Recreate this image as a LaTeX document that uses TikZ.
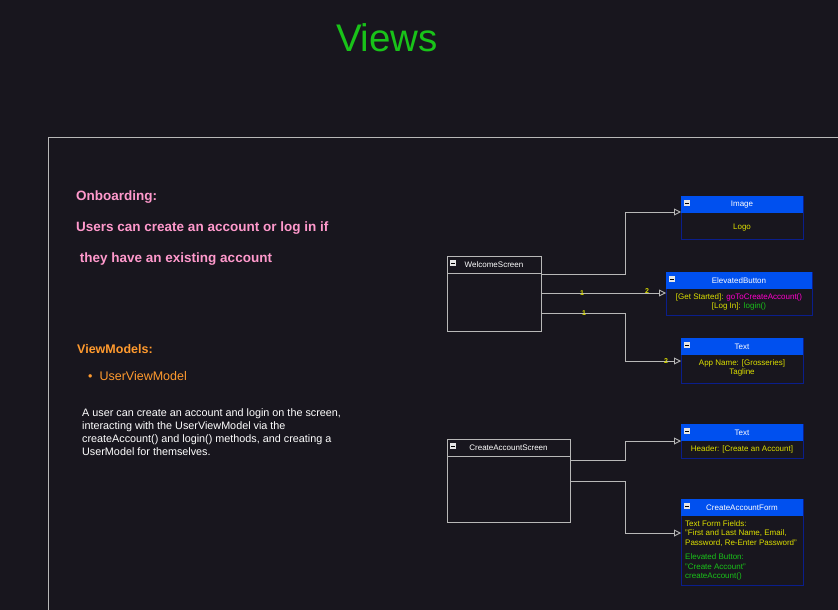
\documentclass[tikz,border=0pt]{standalone}
\usepackage{fontspec}
\setmainfont{Liberation Sans}
\usetikzlibrary{arrows.meta}
\definecolor{bg}{HTML}{18161E}
\definecolor{hdr}{HTML}{0050EF}
\definecolor{bdr}{HTML}{0A1E8C}
\definecolor{ylw}{HTML}{DDE000}
\definecolor{pnk}{HTML}{FF99CC}
\definecolor{org}{HTML}{FF9A2E}
\definecolor{grn}{HTML}{19C319}
\definecolor{mag}{HTML}{FF00CC}
\definecolor{gry}{HTML}{B8B8B8}
\tikzset{
 conn/.style={draw=gry,line width=0.9pt,-{Triangle[open,length=7pt,width=7pt]}},
 lab/.style={text=ylw,font=\fontsize{7}{8}\selectfont\bfseries,inner sep=1pt},
 ttl/.style={font=\fontsize{8}{9}\selectfont,text=white,inner sep=0pt},
 body/.style={font=\fontsize{8}{9.5}\selectfont,text=ylw,inner sep=0pt,align=center},
 big/.style={anchor=west,font=\fontsize{13.5}{16}\selectfont\bfseries,inner sep=0},
}
\newcommand{\minus}[2]{\fill[white!80!gray] (#1+3,-#2-4) rectangle (#1+9,-#2-10); \fill[black] (#1+4,-#2-6.5) rectangle (#1+8,-#2-7.5);}
\newcommand{\scr}[6]{% name x1 y1 x2 y2 hy
 \draw[gry,line width=0.9pt] (#2,-#3) rectangle (#4,-#5);
 \draw[gry,line width=0.9pt] (#2,-#6) -- (#4,-#6);
 \coordinate (#1) at (#2,-#3);
 \minus{#2}{#3}}
\newcommand{\comp}[5]{% x1 y1 x2 y2 hy
 \fill[bg] (#1,-#2) rectangle (#3,-#4);
 \draw[bdr,line width=0.9pt] (#1,-#2) rectangle (#3,-#4);
 \fill[hdr] (#1,-#2) rectangle (#3,-#5);
 \minus{#1}{#2}}
\begin{document}
\begin{tikzpicture}[x=1pt,y=1pt]
\fill[bg] (0,0) rectangle (838,-610);
\useasboundingbox (0,0) rectangle (838,-610);
\draw[gry,line width=0.7pt] (838,-137) -- (48,-137) -- (48,-610);
\node[text=grn,font=\fontsize{38.5}{42}\selectfont] (title) at (387,-38) {Views};
% left text
\node[big,text=pnk] (t1) at (76,-197) {Onboarding:};
\node[big,text=pnk] (t2) at (76,-228) {Users can create an account or log in if};
\node[big,text=pnk] (t3) at (76,-259) {\ they have an existing account};
\node[big,text=org,font=\fontsize{12.5}{15}\selectfont\bfseries] (t4) at (77,-349) {ViewModels:};
\node[anchor=west,text=org,font=\fontsize{12.5}{15}\selectfont,inner sep=0] (t5) at (88,-376) {\textbullet\hspace{7pt}UserViewModel};
\node[anchor=north west,text=white,font=\fontsize{10.8}{13}\selectfont,align=left,inner sep=0] (t6) at (82,-408) {A user can create an account and login on the screen,\\interacting with the UserViewModel via the\\createAccount() and login() methods, and creating a\\UserModel for themselves.};
% screens
\scr{ws}{447}{256}{541}{331}{273}
\node[ttl] (wst) at (494,-264.5) {WelcomeScreen};
\scr{cas}{447}{439}{570}{522}{456}
\node[ttl] (cast) at (508.5,-447.5) {CreateAccountScreen};
% components
\comp{681}{196}{803}{239}{213}
\node[ttl] (img) at (742,-204.5) {Image};
\node[body] (imgb) at (742,-228) {Logo};
\comp{666}{272}{812}{315}{289}
\node[ttl] (eb) at (739,-280.5) {ElevatedButton};
\node[body] (ebb) at (739,-302) {[Get Started]: \textcolor{mag}{goToCreateAccount()}\\{}[Log In]: \textcolor{grn}{login()}};
\comp{681}{338}{803}{383}{355}
\node[ttl] (tx1) at (742,-346.5) {Text};
\node[body] (tx1b) at (742,-368) {App Name: [Grosseries]\\Tagline};
\comp{681}{424}{803}{458}{441}
\node[ttl] (tx2) at (742,-432.5) {Text};
\node[body] (tx2b) at (742,-449.5) {Header: [Create an Account]};
\comp{681}{499}{803}{585}{516}
\node[ttl] (caf) at (742,-507.5) {CreateAccountForm};
\node[body,align=left,anchor=north west] (cafb) at (685,-520) {Text Form Fields:\\{}"First and Last Name, Email,\\Password, Re-Enter Password"\\[5pt]\textcolor{grn}{Elevated Button:}\\\textcolor{grn}{"Create Account"}\\\textcolor{grn}{createAccount()}};
% anchor coordinates
\coordinate (a1) at (541,-274); \coordinate (b1) at (681,-212);
\coordinate (a2) at (541,-293); \coordinate (b2) at (666,-293);
\coordinate (a3) at (541,-313); \coordinate (b3) at (681,-361);
\coordinate (a4) at (570,-460); \coordinate (b4) at (681,-441);
\coordinate (a5) at (570,-481); \coordinate (b5) at (681,-533);
\draw[conn] (a1) -- (625,-274) |- (b1);
\draw[conn] (a2) -- (b2);
\draw[conn] (a3) -- (625,-313) |- (b3);
\draw[conn] (a4) -- (625,-460) |- (b4);
\draw[conn] (a5) -- (625,-481) |- (b5);
\node[lab] (l1) at (582,-293.5) {1};
\node[lab] (l2) at (647,-291) {2};
\node[lab] (l3) at (584,-313) {1};
\node[lab] (l4) at (666,-361) {2};
\end{tikzpicture}
\end{document}
